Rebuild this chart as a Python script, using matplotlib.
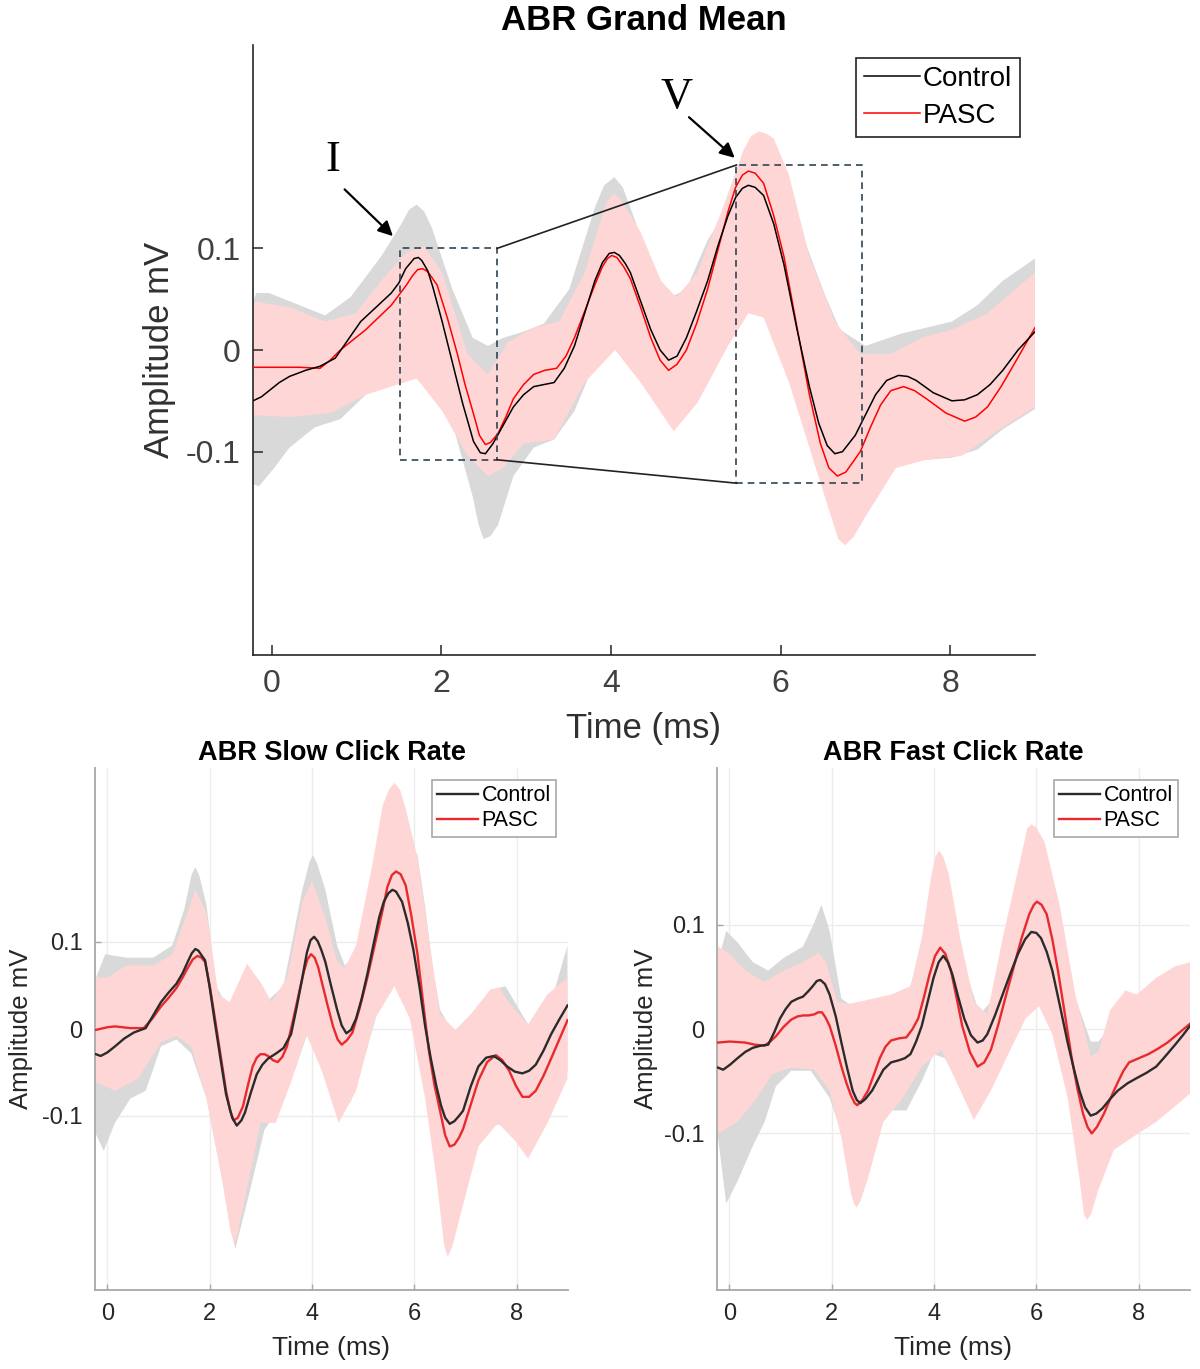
"""ABR grand mean + slow / fast click rate panels (Control vs PASC).

Curves and confidence bands read off the reference picture by eye.
"""
import numpy as np
import matplotlib
matplotlib.use("Agg")
import matplotlib.pyplot as plt

plt.rcParams["font.family"] = ["Liberation Sans", "DejaVu Sans"]

W, H = 1200, 1369
GRAY_BAND = "#d9d9d9"
PINK_BAND = "#ffd6d6"
LABELS = ["Control", "PASC"]
XTICKS = [0, 2, 4, 6, 8]
YTICKS = [-0.1, 0, 0.1]

# ---------------- grand mean (top) ----------------
top_ctrl_t = [-0.22, -0.12, -0.03, 0.09, 0.21, 0.40, 0.57, 0.75, 0.90, 1.05, 1.23, 1.41, 1.50,
              1.58, 1.68, 1.73, 1.77, 1.84, 1.90, 2.01, 2.13, 2.25, 2.38, 2.46, 2.52, 2.61, 2.73,
              2.85, 2.97, 3.09, 3.21, 3.33, 3.45, 3.57, 3.69, 3.81, 3.90, 3.98, 4.04, 4.10, 4.17,
              4.23, 4.35, 4.47, 4.58, 4.68, 4.78, 4.89, 5.01, 5.14, 5.26, 5.38, 5.47, 5.55, 5.62,
              5.70, 5.80, 5.92, 6.04, 6.19, 6.34, 6.45, 6.55, 6.64, 6.73, 6.88, 7.00, 7.12, 7.25,
              7.39, 7.50, 7.60, 7.80, 8.02, 8.17, 8.32, 8.47, 8.62, 8.80, 9.00]
top_ctrl = [-0.050, -0.046, -0.040, -0.032, -0.026, -0.020, -0.016, -0.008, 0.010, 0.028, 0.042,
            0.056, 0.066, 0.080, 0.090, 0.091, 0.088, 0.078, 0.062, 0.028, -0.012, -0.052, -0.090,
            -0.101, -0.102, -0.092, -0.074, -0.056, -0.044, -0.036, -0.034, -0.032, -0.018, 0.004,
            0.036, 0.068, 0.086, 0.095, 0.096, 0.093, 0.085, 0.076, 0.048, 0.020, 0.000, -0.010,
            -0.006, 0.012, 0.038, 0.068, 0.102, 0.132, 0.150, 0.159, 0.162, 0.160, 0.152, 0.124,
            0.084, 0.022, -0.036, -0.072, -0.094, -0.102, -0.100, -0.084, -0.064, -0.044, -0.030,
            -0.025, -0.026, -0.030, -0.042, -0.050, -0.049, -0.044, -0.034, -0.020, 0.000, 0.018]
top_pasc_t = [-0.22, 0.33, 0.57, 0.69, 0.81, 0.96, 1.11, 1.26, 1.41, 1.50, 1.59, 1.66, 1.72, 1.78,
              1.84, 1.90, 1.95, 2.07, 2.19, 2.28, 2.37, 2.45, 2.52, 2.58, 2.67, 2.76, 2.85, 2.97,
              3.09, 3.22, 3.36, 3.47, 3.57, 3.69, 3.81, 3.90, 3.96, 4.01, 4.07, 4.15, 4.23, 4.35,
              4.47, 4.58, 4.68, 4.78, 4.89, 5.01, 5.14, 5.26, 5.38, 5.47, 5.55, 5.62, 5.70, 5.80,
              5.92, 6.04, 6.19, 6.34, 6.47, 6.57, 6.67, 6.77, 6.94, 7.06, 7.18, 7.30, 7.45, 7.58,
              7.72, 7.95, 8.17, 8.30, 8.44, 8.60, 8.74, 9.00]
top_pasc = [-0.017, -0.017, -0.018, -0.010, 0.000, 0.010, 0.020, 0.032, 0.044, 0.054, 0.064,
            0.073, 0.079, 0.080, 0.077, 0.070, 0.064, 0.032, -0.004, -0.034, -0.060, -0.084,
            -0.093, -0.091, -0.082, -0.066, -0.048, -0.034, -0.024, -0.020, -0.018, -0.006, 0.012,
            0.038, 0.064, 0.082, 0.090, 0.093, 0.091, 0.082, 0.070, 0.042, 0.012, -0.010, -0.020,
            -0.014, 0.000, 0.026, 0.060, 0.098, 0.136, 0.160, 0.172, 0.176, 0.174, 0.164, 0.132,
            0.092, 0.024, -0.044, -0.092, -0.116, -0.124, -0.120, -0.100, -0.076, -0.054, -0.040,
            -0.036, -0.040, -0.048, -0.062, -0.070, -0.066, -0.056, -0.036, -0.016, 0.022]

top_gray_up_t = [-0.22, -0.18, -0.03, 0.21, 0.63, 0.93, 1.29, 1.53, 1.62, 1.71, 1.80, 1.89, 2.13,
                 2.37, 2.55, 2.73, 2.97, 3.21, 3.51, 3.81, 3.92, 4.04, 4.14, 4.23, 4.47, 4.71,
                 4.89, 5.14, 5.38, 5.62, 5.86, 6.10, 6.34, 6.52, 6.70, 7.00, 7.42, 8.02, 8.32,
                 8.62, 9.00]
top_gray_up = [0.048, 0.056, 0.056, 0.048, 0.034, 0.052, 0.092, 0.124, 0.138, 0.143, 0.136,
               0.120, 0.060, 0.012, 0.004, 0.012, 0.018, 0.026, 0.060, 0.140, 0.162, 0.170, 0.160,
               0.140, 0.084, 0.052, 0.060, 0.108, 0.140, 0.180, 0.190, 0.150, 0.095, 0.055, 0.020,
               0.004, 0.016, 0.028, 0.044, 0.068, 0.090]
top_gray_lo_t = [-0.22, -0.15, 0.03, 0.21, 0.51, 0.81, 1.11, 1.41, 1.71, 1.89, 2.13, 2.37, 2.44,
                 2.50, 2.58, 2.67, 2.85, 3.09, 3.33, 3.57, 3.81, 4.05, 4.41, 4.71, 5.02, 5.38,
                 5.74, 5.92, 6.22, 6.52, 6.82, 7.12, 7.42, 8.02, 8.32, 8.62, 9.00]
top_gray_lo = [-0.132, -0.134, -0.116, -0.096, -0.076, -0.068, -0.044, -0.024, -0.014, -0.020,
               -0.072, -0.144, -0.172, -0.186, -0.183, -0.172, -0.124, -0.096, -0.088, -0.060,
               -0.012, 0.004, -0.025, -0.070, -0.040, 0.020, 0.060, 0.052, 0.004, -0.060, -0.096,
               -0.110, -0.110, -0.106, -0.098, -0.078, -0.058]
top_pink_up_t = [-0.22, 0.21, 0.63, 0.99, 1.29, 1.59, 1.80, 2.01, 2.31, 2.55, 2.79, 3.09, 3.39,
                 3.69, 3.95, 4.04, 4.13, 4.35, 4.59, 4.77, 5.02, 5.32, 5.56, 5.65, 5.74, 5.83,
                 5.92, 6.10, 6.34, 6.64, 6.94, 7.30, 7.66, 8.02, 8.44, 9.00]
top_pink_up = [0.048, 0.042, 0.028, 0.036, 0.068, 0.096, 0.102, 0.076, -0.004, -0.024, 0.008,
               0.022, 0.028, 0.076, 0.146, 0.154, 0.146, 0.116, 0.068, 0.052, 0.076, 0.140, 0.196,
               0.210, 0.215, 0.213, 0.208, 0.172, 0.092, 0.028, -0.004, -0.004, 0.012, 0.020,
               0.036, 0.076]
top_pink_lo_t = [-0.22, 0.21, 0.69, 1.11, 1.41, 1.71, 2.01, 2.31, 2.55, 2.73, 2.97, 3.33, 3.69,
                 4.05, 4.35, 4.74, 5.02, 5.38, 5.62, 5.80, 6.10, 6.40, 6.68, 6.76, 6.86, 7.00,
                 7.36, 7.72, 8.14, 8.62, 9.00]
top_pink_lo = [-0.064, -0.066, -0.062, -0.044, -0.036, -0.028, -0.060, -0.104, -0.124, -0.116,
               -0.092, -0.088, -0.032, 0.000, -0.032, -0.080, -0.052, 0.004, 0.036, 0.032, -0.032,
               -0.112, -0.186, -0.192, -0.184, -0.164, -0.116, -0.108, -0.104, -0.076, -0.056]

# zoom boxes around waves I and V: (t0, t1, a0, a1)
box_I = (1.51, 2.66, -0.108, 0.100)
box_V = (5.48, 6.96, -0.131, 0.182)

# ---------------- slow click rate ----------------
slow_ctrl_t = [-0.22, -0.13, 0.00, 0.15, 0.33, 0.52, 0.75, 0.90, 1.05, 1.20, 1.35, 1.47, 1.57,
               1.65, 1.72, 1.78, 1.85, 1.91, 2.00, 2.09, 2.20, 2.32, 2.44, 2.53, 2.62, 2.69, 2.80,
               2.92, 3.03, 3.14, 3.30, 3.44, 3.59, 3.70, 3.81, 3.90, 3.97, 4.04, 4.11, 4.18, 4.26,
               4.37, 4.49, 4.58, 4.67, 4.76, 4.86, 4.97, 5.08, 5.20, 5.31, 5.40, 5.49, 5.57, 5.64,
               5.76, 5.87, 5.98, 6.10, 6.21, 6.32, 6.43, 6.52, 6.60, 6.69, 6.78, 6.87, 6.95, 7.10,
               7.25, 7.40, 7.55, 7.68, 7.81, 7.96, 8.11, 8.24, 8.37, 8.52, 8.67, 8.83, 8.99]
slow_ctrl = [-0.029, -0.031, -0.027, -0.020, -0.011, -0.004, 0.001, 0.016, 0.031, 0.042, 0.052,
             0.064, 0.077, 0.087, 0.092, 0.090, 0.084, 0.079, 0.048, 0.012, -0.030, -0.075,
             -0.102, -0.111, -0.105, -0.096, -0.074, -0.052, -0.041, -0.034, -0.028, -0.022,
             -0.006, 0.025, 0.059, 0.088, 0.102, 0.106, 0.101, 0.091, 0.077, 0.050, 0.022, 0.004,
             -0.005, -0.001, 0.012, 0.035, 0.063, 0.097, 0.128, 0.146, 0.156, 0.160, 0.158, 0.146,
             0.122, 0.091, 0.048, 0.003, -0.034, -0.066, -0.088, -0.102, -0.109, -0.106, -0.100,
             -0.094, -0.066, -0.043, -0.033, -0.031, -0.036, -0.043, -0.049, -0.051, -0.048,
             -0.041, -0.025, -0.006, 0.011, 0.027]
slow_pasc_t = [-0.22, 0.00, 0.15, 0.30, 0.45, 0.71, 0.88, 1.05, 1.20, 1.35, 1.47, 1.57, 1.67,
               1.76, 1.84, 1.91, 2.00, 2.09, 2.20, 2.32, 2.40, 2.47, 2.55, 2.65, 2.75, 2.84, 2.92,
               2.99, 3.07, 3.14, 3.24, 3.33, 3.42, 3.51, 3.62, 3.74, 3.84, 3.91, 3.98, 4.05, 4.12,
               4.19, 4.30, 4.41, 4.50, 4.58, 4.68, 4.79, 4.93, 5.08, 5.23, 5.38, 5.47, 5.56, 5.64,
               5.73, 5.83, 5.94, 6.06, 6.17, 6.28, 6.39, 6.50, 6.60, 6.69, 6.78, 6.87, 6.95, 7.10,
               7.25, 7.42, 7.59, 7.72, 7.85, 7.98, 8.11, 8.24, 8.37, 8.52, 8.67, 8.83, 8.99]
slow_pasc = [-0.001, 0.002, 0.003, 0.002, 0.001, 0.001, 0.012, 0.026, 0.036, 0.047, 0.059, 0.070,
             0.080, 0.084, 0.082, 0.077, 0.050, 0.017, -0.025, -0.071, -0.094, -0.105, -0.102,
             -0.089, -0.064, -0.043, -0.033, -0.029, -0.029, -0.031, -0.036, -0.038, -0.032,
             -0.020, 0.008, 0.040, 0.066, 0.080, 0.086, 0.082, 0.071, 0.054, 0.028, 0.003, -0.012,
             -0.018, -0.013, -0.004, 0.024, 0.059, 0.098, 0.137, 0.163, 0.177, 0.181, 0.178,
             0.165, 0.130, 0.086, 0.030, -0.024, -0.064, -0.094, -0.122, -0.135, -0.133, -0.125,
             -0.115, -0.087, -0.059, -0.038, -0.030, -0.036, -0.048, -0.065, -0.078, -0.078,
             -0.071, -0.054, -0.034, -0.012, 0.010]

slow_gray_up_t = [-0.22, -0.04, 0.37, 0.90, 1.27, 1.50, 1.65, 1.72, 1.80, 1.94, 2.13, 2.32, 2.54,
                  2.84, 3.14, 3.44, 3.81, 3.95, 4.02, 4.10, 4.26, 4.49, 4.64, 4.93, 5.23, 5.53,
                  5.83, 6.06, 6.21, 6.36, 6.50, 6.77, 7.03, 7.48, 7.78, 8.15, 8.37, 8.67, 8.99]
slow_gray_up = [0.059, 0.086, 0.082, 0.082, 0.096, 0.137, 0.178, 0.186, 0.176, 0.142, 0.049,
                0.029, 0.020, 0.030, 0.033, 0.049, 0.160, 0.192, 0.200, 0.190, 0.160, 0.096,
                0.073, 0.090, 0.160, 0.230, 0.220, 0.200, 0.140, 0.070, 0.022, -0.005, 0.003,
                0.045, 0.049, 0.012, -0.008, 0.031, 0.096]
slow_gray_lo_t = [-0.22, -0.07, 0.15, 0.45, 0.75, 1.05, 1.35, 1.64, 1.94, 2.24, 2.50, 2.77, 3.07,
                  3.36, 3.66, 3.96, 4.26, 4.49, 4.75, 5.01, 5.38, 5.64, 5.91, 6.13, 6.43, 6.73,
                  7.10, 7.40, 7.85, 8.22, 8.67, 8.99]
slow_gray_lo = [-0.121, -0.140, -0.108, -0.080, -0.071, -0.020, -0.012, -0.028, -0.080, -0.172,
                -0.253, -0.190, -0.116, -0.090, -0.048, 0.003, -0.024, -0.066, -0.085, -0.035,
                0.040, 0.068, 0.045, -0.015, -0.103, -0.163, -0.149, -0.112, -0.108, -0.126,
                -0.089, -0.048]
slow_pink_up_t = [-0.22, 0.00, 0.37, 0.90, 1.27, 1.50, 1.72, 1.94, 2.17, 2.39, 2.73, 2.99, 3.21,
                  3.51, 3.81, 4.00, 4.26, 4.49, 4.64, 4.86, 5.16, 5.38, 5.50, 5.61, 5.72, 5.83,
                  6.06, 6.28, 6.50, 6.80, 7.10, 7.48, 7.65, 7.85, 8.22, 8.60, 8.99]
slow_pink_up = [0.059, 0.059, 0.073, 0.073, 0.086, 0.123, 0.160, 0.133, 0.040, 0.031, 0.075,
                0.054, 0.031, 0.059, 0.146, 0.170, 0.128, 0.077, 0.070, 0.096, 0.183, 0.257,
                0.275, 0.283, 0.275, 0.253, 0.197, 0.105, 0.017, -0.001, 0.017, 0.045, 0.048,
                0.030, 0.005, 0.040, 0.059]
slow_pink_lo_t = [-0.22, 0.15, 0.60, 1.05, 1.35, 1.64, 1.94, 2.24, 2.40, 2.48, 2.56, 2.77, 2.99,
                  3.29, 3.59, 3.89, 4.19, 4.52, 4.86, 5.23, 5.61, 5.91, 6.21, 6.43, 6.58, 6.65,
                  6.74, 6.88, 7.25, 7.63, 7.96, 8.22, 8.60, 8.99]
slow_pink_lo = [-0.061, -0.071, -0.057, -0.015, -0.008, -0.020, -0.080, -0.172, -0.230, -0.248,
                -0.232, -0.172, -0.108, -0.108, -0.061, -0.006, -0.048, -0.108, -0.071, 0.012,
                0.049, 0.012, -0.080, -0.172, -0.248, -0.262, -0.250, -0.218, -0.135, -0.108,
                -0.128, -0.149, -0.108, -0.057]

# ---------------- fast click rate ----------------
fast_ctrl_t = [-0.22, -0.12, 0.02, 0.16, 0.31, 0.46, 0.61, 0.76, 0.88, 0.99, 1.10, 1.21, 1.33,
               1.44, 1.54, 1.63, 1.71, 1.78, 1.87, 1.96, 2.08, 2.19, 2.30, 2.41, 2.49, 2.56, 2.66,
               2.79, 2.90, 3.01, 3.16, 3.31, 3.43, 3.54, 3.65, 3.76, 3.88, 3.99, 4.09, 4.18, 4.27,
               4.36, 4.47, 4.59, 4.72, 4.85, 4.95, 5.04, 5.19, 5.34, 5.49, 5.64, 5.78, 5.90, 6.00,
               6.09, 6.20, 6.31, 6.46, 6.61, 6.73, 6.84, 6.95, 7.06, 7.17, 7.29, 7.44, 7.59, 7.78,
               7.96, 8.15, 8.34, 8.52, 8.71, 8.86, 9.00]
fast_ctrl = [-0.037, -0.039, -0.034, -0.028, -0.022, -0.018, -0.016, -0.015, -0.003, 0.010,
             0.019, 0.026, 0.029, 0.031, 0.036, 0.041, 0.046, 0.047, 0.043, 0.033, 0.012, -0.013,
             -0.037, -0.059, -0.068, -0.071, -0.067, -0.059, -0.049, -0.039, -0.032, -0.030,
             -0.028, -0.024, -0.012, 0.003, 0.027, 0.049, 0.064, 0.070, 0.064, 0.052, 0.031,
             0.010, -0.006, -0.013, -0.011, -0.005, 0.013, 0.033, 0.053, 0.072, 0.086, 0.093,
             0.092, 0.087, 0.074, 0.056, 0.022, -0.013, -0.038, -0.059, -0.075, -0.083, -0.081,
             -0.076, -0.067, -0.059, -0.052, -0.047, -0.042, -0.036, -0.026, -0.015, -0.006, 0.003]
fast_pasc_t = [-0.22, 0.01, 0.31, 0.50, 0.69, 0.80, 0.91, 1.06, 1.21, 1.33, 1.44, 1.55, 1.66,
               1.74, 1.81, 1.88, 1.96, 2.08, 2.19, 2.29, 2.38, 2.45, 2.50, 2.60, 2.71, 2.83, 2.94,
               3.05, 3.16, 3.31, 3.46, 3.58, 3.69, 3.80, 3.91, 4.02, 4.12, 4.22, 4.33, 4.44, 4.55,
               4.70, 4.85, 4.98, 5.11, 5.26, 5.41, 5.56, 5.71, 5.86, 5.95, 6.01, 6.10, 6.20, 6.31,
               6.42, 6.55, 6.69, 6.80, 6.91, 7.00, 7.08, 7.18, 7.32, 7.45, 7.59, 7.70, 7.81, 8.00,
               8.19, 8.37, 8.56, 8.78, 9.00]
fast_pasc = [-0.013, -0.012, -0.013, -0.015, -0.016, -0.012, -0.007, 0.002, 0.009, 0.012, 0.013,
             0.013, 0.014, 0.016, 0.016, 0.011, 0.003, -0.016, -0.036, -0.052, -0.064, -0.071,
             -0.073, -0.068, -0.059, -0.043, -0.028, -0.017, -0.011, -0.009, -0.008, 0.000, 0.010,
             0.030, 0.052, 0.070, 0.078, 0.072, 0.056, 0.030, 0.003, -0.022, -0.036, -0.032,
             -0.020, 0.005, 0.033, 0.060, 0.087, 0.110, 0.119, 0.122, 0.119, 0.110, 0.086, 0.056,
             0.016, -0.028, -0.057, -0.081, -0.094, -0.100, -0.094, -0.081, -0.066, -0.051,
             -0.040, -0.032, -0.028, -0.024, -0.019, -0.013, -0.004, 0.005]

fast_gray_up_t = [-0.22, -0.06, 0.16, 0.46, 0.76, 1.06, 1.44, 1.66, 1.80, 1.96, 2.19, 2.34, 2.71,
                  3.46, 3.84, 4.06, 4.36, 4.66, 4.89, 5.11, 5.41, 5.71, 5.94, 6.31, 6.69, 7.06,
                  7.21, 7.59, 8.34, 9.00]
fast_gray_up = [0.064, 0.094, 0.083, 0.064, 0.056, 0.068, 0.079, 0.102, 0.119, 0.094, 0.029,
                0.024, 0.022, 0.030, 0.085, 0.150, 0.120, 0.050, 0.014, 0.026, 0.080, 0.140,
                0.170, 0.140, 0.040, -0.012, -0.012, 0.010, 0.030, 0.055]
fast_gray_lo_t = [-0.22, -0.06, 0.16, 0.46, 0.69, 0.91, 1.21, 1.59, 1.96, 2.34, 2.56, 2.86, 3.16,
                  3.46, 3.76, 3.99, 4.21, 4.59, 4.81, 5.11, 5.41, 5.71, 6.09, 6.31, 6.61, 6.91,
                  7.21, 7.59, 7.96, 8.34, 9.00]
fast_gray_lo = [-0.104, -0.167, -0.146, -0.112, -0.089, -0.055, -0.040, -0.040, -0.066, -0.120,
                -0.140, -0.093, -0.078, -0.078, -0.050, -0.024, -0.028, -0.058, -0.073, -0.047,
                -0.013, 0.010, 0.052, 0.033, -0.028, -0.085, -0.104, -0.085, -0.074, -0.058,
                -0.035]
fast_pink_up_t = [-0.22, 0.01, 0.31, 0.69, 1.06, 1.44, 1.74, 1.89, 2.11, 2.34, 2.71, 3.16, 3.54,
                  3.76, 3.95, 4.03, 4.10, 4.18, 4.29, 4.51, 4.78, 5.04, 5.34, 5.64, 5.82, 5.90,
                  6.00, 6.16, 6.46, 6.76, 7.06, 7.21, 7.44, 7.74, 7.96, 8.34, 8.71, 9.00]
fast_pink_up = [0.079, 0.072, 0.056, 0.045, 0.056, 0.064, 0.073, 0.064, 0.026, 0.024, 0.028,
                0.033, 0.041, 0.087, 0.148, 0.165, 0.171, 0.165, 0.148, 0.087, 0.026, 0.014,
                0.087, 0.152, 0.192, 0.196, 0.193, 0.179, 0.117, 0.033, -0.026, -0.022, 0.018,
                0.037, 0.033, 0.049, 0.060, 0.064]
fast_pink_lo_t = [-0.22, 0.16, 0.54, 0.84, 1.21, 1.66, 1.96, 2.19, 2.38, 2.44, 2.49, 2.56, 2.71,
                  3.01, 3.39, 3.76, 4.14, 4.44, 4.78, 5.11, 5.49, 5.79, 6.05, 6.31, 6.61, 6.84,
                  6.93, 6.99, 7.07, 7.21, 7.51, 7.96, 8.34, 8.71, 9.00]
fast_pink_lo = [-0.100, -0.089, -0.066, -0.043, -0.037, -0.039, -0.059, -0.104, -0.158, -0.168,
                -0.171, -0.165, -0.143, -0.089, -0.066, -0.036, -0.020, -0.051, -0.087, -0.059,
                -0.020, 0.010, 0.022, -0.005, -0.066, -0.143, -0.178, -0.183, -0.177, -0.154,
                -0.116, -0.101, -0.089, -0.074, -0.062]


def ejes(rect_px):
    """rect_px = (left, top, right, bottom) en pixeles de la imagen."""
    l, t, r, b = rect_px
    return fig.add_axes([l / W, 1 - b / H, (r - l) / W, (b - t) / H])


def banda(ax, tu, up, tl, lo, color):
    ax.fill(np.r_[tu, np.asarray(tl)[::-1]], np.r_[up, np.asarray(lo)[::-1]],
            color=color, lw=0, zorder=1)


fig = plt.figure(figsize=(W / 100, H / 100), dpi=100)

# ---------------- top panel ----------------
ax = ejes((253, 45, 1035, 655))
banda(ax, top_gray_up_t, top_gray_up, top_gray_lo_t, top_gray_lo, GRAY_BAND)
banda(ax, top_pink_up_t, top_pink_up, top_pink_lo_t, top_pink_lo, PINK_BAND)
ax.plot(top_ctrl_t, top_ctrl, color="black", lw=1.1, zorder=4, label=LABELS[0],
        solid_joinstyle="round")
ax.plot(top_pasc_t, top_pasc, color="red", lw=1.1, zorder=3, label=LABELS[1],
        solid_joinstyle="round")

for t0, t1, a0, a1 in (box_I, box_V):
    ax.plot([t0, t1, t1, t0, t0], [a0, a0, a1, a1, a0], ls=(0, (4, 3)),
            color="#2e4452", lw=1.2, zorder=5)
ax.plot([box_I[1], box_V[0]], [box_I[3], box_V[3]], color="#222222", lw=1.2, zorder=5)
ax.plot([box_I[1], box_V[0]], [box_I[2], box_V[2]], color="#222222", lw=1.2, zorder=5)

arrow = dict(arrowstyle="-|>", color="black", lw=1.6, mutation_scale=22, shrinkA=0, shrinkB=0)
ax.text(0.72, 0.187, "I", family=["Liberation Serif", "DejaVu Serif"], fontsize=32,
        ha="center", va="center", zorder=6)
ax.annotate("", xy=(1.43, 0.112), xytext=(0.86, 0.158), arrowprops=arrow, zorder=6)
ax.text(4.77, 0.249, "V", family=["Liberation Serif", "DejaVu Serif"], fontsize=32,
        ha="center", va="center", zorder=6)
ax.annotate("", xy=(5.46, 0.189), xytext=(4.92, 0.229), arrowprops=arrow, zorder=6)

ax.set_xlim(-0.22, 9.0)
ax.set_ylim(-0.3, 0.3)
ax.set_xticks(XTICKS)
ax.set_yticks(YTICKS)
ax.set_yticklabels(["-0.1", "0", "0.1"])
for s in ("top", "right"):
    ax.spines[s].set_visible(False)
for s in ("left", "bottom"):
    ax.spines[s].set_color("#262626")
    ax.spines[s].set_linewidth(1.2)
ax.tick_params(direction="in", length=7, width=1.1, color="#262626",
               labelsize=23, labelcolor="#404040")
ax.tick_params(axis="x", pad=10)
ax.tick_params(axis="y", pad=9)
ax.set_title("ABR Grand Mean", fontsize=25, fontweight="bold", pad=11)
ax.set_xlabel("Time (ms)", fontsize=25, color="#303030")
ax.set_ylabel("Amplitude mV", fontsize=25, color="#303030")
ax.xaxis.set_label_coords(0.5, -0.093)
ax.yaxis.set_label_coords(-0.098, 0.5)
leg = ax.legend(loc="upper right", bbox_to_anchor=(0.981, 0.979), borderaxespad=0,
                fontsize=20, handlelength=2.0, handletextpad=0.1, borderpad=0.3,
                labelspacing=0.38, fancybox=False, framealpha=1)
leg.get_frame().set_edgecolor("#222222")
leg.get_frame().set_linewidth(1.2)

# ---------------- bottom panels ----------------
paneles = [
    ("ABR Slow Click Rate", (95, 768, 568, 1290), (-0.3, 0.3), -0.131,
     slow_gray_up_t, slow_gray_up, slow_gray_lo_t, slow_gray_lo,
     slow_pink_up_t, slow_pink_up, slow_pink_lo_t, slow_pink_lo,
     slow_ctrl_t, slow_ctrl, slow_pasc_t, slow_pasc),
    ("ABR Fast Click Rate", (717, 768, 1190, 1290), (-0.25, 0.25), -0.125,
     fast_gray_up_t, fast_gray_up, fast_gray_lo_t, fast_gray_lo,
     fast_pink_up_t, fast_pink_up, fast_pink_lo_t, fast_pink_lo,
     fast_ctrl_t, fast_ctrl, fast_pasc_t, fast_pasc),
]
for (titulo, rect, ylim, ylab_x, gut, gu, glt, gl, put, pu, plt_, pl,
     ct, cv, pt, pv) in paneles:
    ax = ejes(rect)
    banda(ax, gut, gu, glt, gl, GRAY_BAND)
    banda(ax, put, pu, plt_, pl, PINK_BAND)
    ax.plot(ct, cv, color="#2b2b2b", lw=1.7, zorder=4, label=LABELS[0], solid_joinstyle="round")
    ax.plot(pt, pv, color="#e82a2e", lw=1.7, zorder=3, label=LABELS[1], solid_joinstyle="round")
    ax.set_xlim(-0.24, 9.0)
    ax.set_ylim(*ylim)
    ax.set_xticks(XTICKS)
    ax.set_yticks(YTICKS)
    ax.set_yticklabels(["-0.1", "0", "0.1"])
    ax.grid(True, color="#ececec", lw=1.0)
    ax.set_axisbelow(True)
    for s in ("top", "right"):
        ax.spines[s].set_visible(False)
    for s in ("left", "bottom"):
        ax.spines[s].set_color("#a8a8a8")
        ax.spines[s].set_linewidth(1.3)
    ax.tick_params(direction="in", length=4, width=1.0, color="#a8a8a8",
                   labelsize=17, labelcolor="#262626")
    ax.tick_params(axis="x", pad=9)
    ax.tick_params(axis="y", pad=9)
    ax.set_title(titulo, fontsize=19.5, fontweight="bold", pad=6)
    ax.set_xlabel("Time (ms)", fontsize=19, color="#262626")
    ax.set_ylabel("Amplitude mV", fontsize=18.5, color="#262626")
    ax.xaxis.set_label_coords(0.5, -0.088)
    ax.yaxis.set_label_coords(ylab_x, 0.5)
    leg = ax.legend(loc="upper right", bbox_to_anchor=(0.975, 0.977), borderaxespad=0,
                    fontsize=15.5, handlelength=1.9, handletextpad=0.15, borderpad=0.25,
                    labelspacing=0.18, fancybox=False, framealpha=1)
    leg.get_frame().set_edgecolor("#a8a8a8")
    leg.get_frame().set_linewidth(1.2)

fig.savefig("out.png", dpi=100)
